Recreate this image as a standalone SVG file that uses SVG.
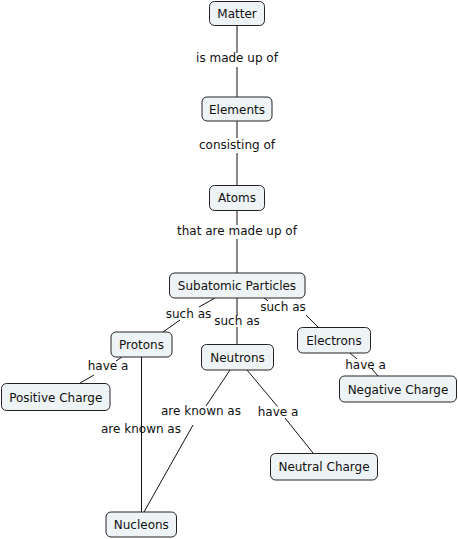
<svg xmlns="http://www.w3.org/2000/svg" width="458" height="539" viewBox="0 0 458 539">
<style>
.n rect{fill:#eef3f5;stroke:#222;stroke-width:1}
.n text,.lb{font-family:"DejaVu Sans",Verdana,sans-serif;font-size:12px;fill:#111;text-anchor:middle}
#connectors line{stroke:#111;stroke-width:1}
</style>
<rect width="458" height="539" fill="#fff"/>
<g id="connectors">
<line x1="237" y1="26" x2="237" y2="53"/>
<line x1="237" y1="67" x2="237" y2="97"/>
<line x1="237" y1="121" x2="237" y2="138"/>
<line x1="237" y1="153" x2="237" y2="185"/>
<line x1="237" y1="210" x2="237" y2="225"/>
<line x1="237" y1="239" x2="237" y2="273"/>
<line x1="215" y1="298" x2="199" y2="307"/>
<line x1="180" y1="320" x2="163" y2="332"/>
<line x1="237" y1="298" x2="237" y2="316"/>
<line x1="237" y1="327" x2="237" y2="344"/>
<line x1="263" y1="297" x2="268" y2="301"/>
<line x1="306" y1="315" x2="318" y2="327"/>
<line x1="350" y1="353" x2="357" y2="359"/>
<line x1="372" y1="369" x2="378" y2="376"/>
<line x1="122" y1="357" x2="116" y2="361"/>
<line x1="94" y1="375" x2="80" y2="383"/>
<line x1="141.5" y1="357" x2="141.5" y2="512"/>
<line x1="230" y1="370" x2="206" y2="406"/>
<line x1="193" y1="425" x2="144" y2="512"/>
<line x1="247" y1="370" x2="277.5" y2="406.5"/>
<line x1="285" y1="418" x2="313" y2="453"/>
</g>
<g id="labels">
<text class="lb" x="237" y="62">is made up of</text>
<text class="lb" x="237" y="149">consisting of</text>
<text class="lb" x="237" y="235">that are made up of</text>
<text class="lb" x="188.5" y="318">such as</text>
<text class="lb" x="237" y="325">such as</text>
<text class="lb" x="283" y="311">such as</text>
<text class="lb" x="365.5" y="369">have a</text>
<text class="lb" x="108" y="370">have a</text>
<text class="lb" x="141" y="433">are known as</text>
<text class="lb" x="201" y="415">are known as</text>
<text class="lb" x="278" y="416">have a</text>
</g>
<g id="matter" class="n"><rect x="209.5" y="1.5" width="55" height="24" rx="5"/><text x="237" y="18">Matter</text></g>
<g id="elements" class="n"><rect x="202" y="97" width="70" height="24" rx="5"/><text x="237" y="113.5">Elements</text></g>
<g id="atoms" class="n"><rect x="209.5" y="185.5" width="55" height="25" rx="5"/><text x="237" y="202">Atoms</text></g>
<g id="subatomic" class="n"><rect x="169.5" y="273" width="135.5" height="25" rx="5"/><text x="237" y="290">Subatomic Particles</text></g>
<g id="protons" class="n"><rect x="111" y="332" width="61" height="25" rx="5"/><text x="141.5" y="349">Protons</text></g>
<g id="neutrons" class="n"><rect x="201.5" y="344.5" width="72" height="25.5" rx="5"/><text x="237.5" y="361.5">Neutrons</text></g>
<g id="electrons" class="n"><rect x="297.5" y="327.5" width="73" height="25.5" rx="5"/><text x="334" y="344.5">Electrons</text></g>
<g id="negative" class="n"><rect x="339.5" y="376" width="117" height="26" rx="5"/><text x="398" y="393.5">Negative Charge</text></g>
<g id="positive" class="n"><rect x="1.5" y="383.5" width="108.5" height="27" rx="5"/><text x="55.7" y="401.5">Positive Charge</text></g>
<g id="nucleons" class="n"><rect x="106" y="512" width="70.5" height="25" rx="5"/><text x="141.3" y="529">Nucleons</text></g>
<g id="neutral" class="n"><rect x="270.5" y="453.5" width="107" height="26.5" rx="5"/><text x="324" y="471">Neutral Charge</text></g>
</svg>
